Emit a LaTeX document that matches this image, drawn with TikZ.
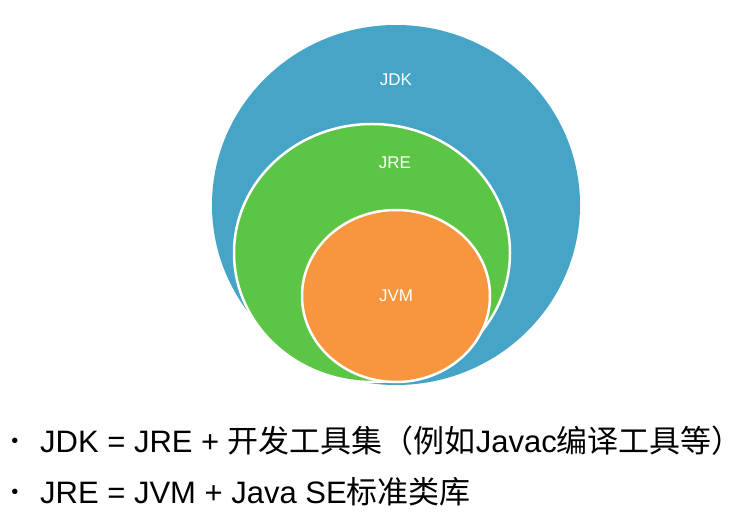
\documentclass[tikz,border=0pt]{standalone}
\usepackage{fontspec}
\setmainfont{Liberation Sans}
\newfontfamily\cjk{Noto Sans CJK SC}
\definecolor{jdkblue}{HTML}{46A4C6}
\definecolor{jregreen}{HTML}{5CC545}
\definecolor{jvmorange}{HTML}{F7963E}
\begin{document}
\begin{tikzpicture}[x=1pt,y=-1pt,
  ring/.style={draw=white,line width=2.5pt},
  lab/.style={text=white,font=\fontsize{17}{20}\selectfont},
  bul/.style={anchor=west,font=\fontsize{31}{35}\selectfont,inner sep=0pt},
  dot/.style={anchor=center,font=\fontsize{20}{24}\selectfont,inner sep=0pt}]
\useasboundingbox[fill=white] (0,0) rectangle (736,526);
\fill[jdkblue] (396,205) ellipse [x radius=184,y radius=180];
\filldraw[ring,fill=jregreen] (372,253) ellipse [x radius=138,y radius=129];
\filldraw[ring,fill=jvmorange] (396,296) ellipse [x radius=94,y radius=86];
\node[lab] (jdk) at (396,80) {JDK};
\node[lab] (jre) at (395,163) {JRE};
\node[lab] (jvm) at (396,296) {JVM};
\node[dot] (b1) at (15,443) {•};
\node[bul] (l1) at (40,441) {JDK = JRE + {\cjk 开发工具集（例如}Javac{\cjk 编译工具等）}};
\node[dot] (b2) at (15,494) {•};
\node[bul] (l2) at (40,492) {JRE = JVM + Java SE{\cjk 标准类库}};
\end{tikzpicture}
\end{document}
